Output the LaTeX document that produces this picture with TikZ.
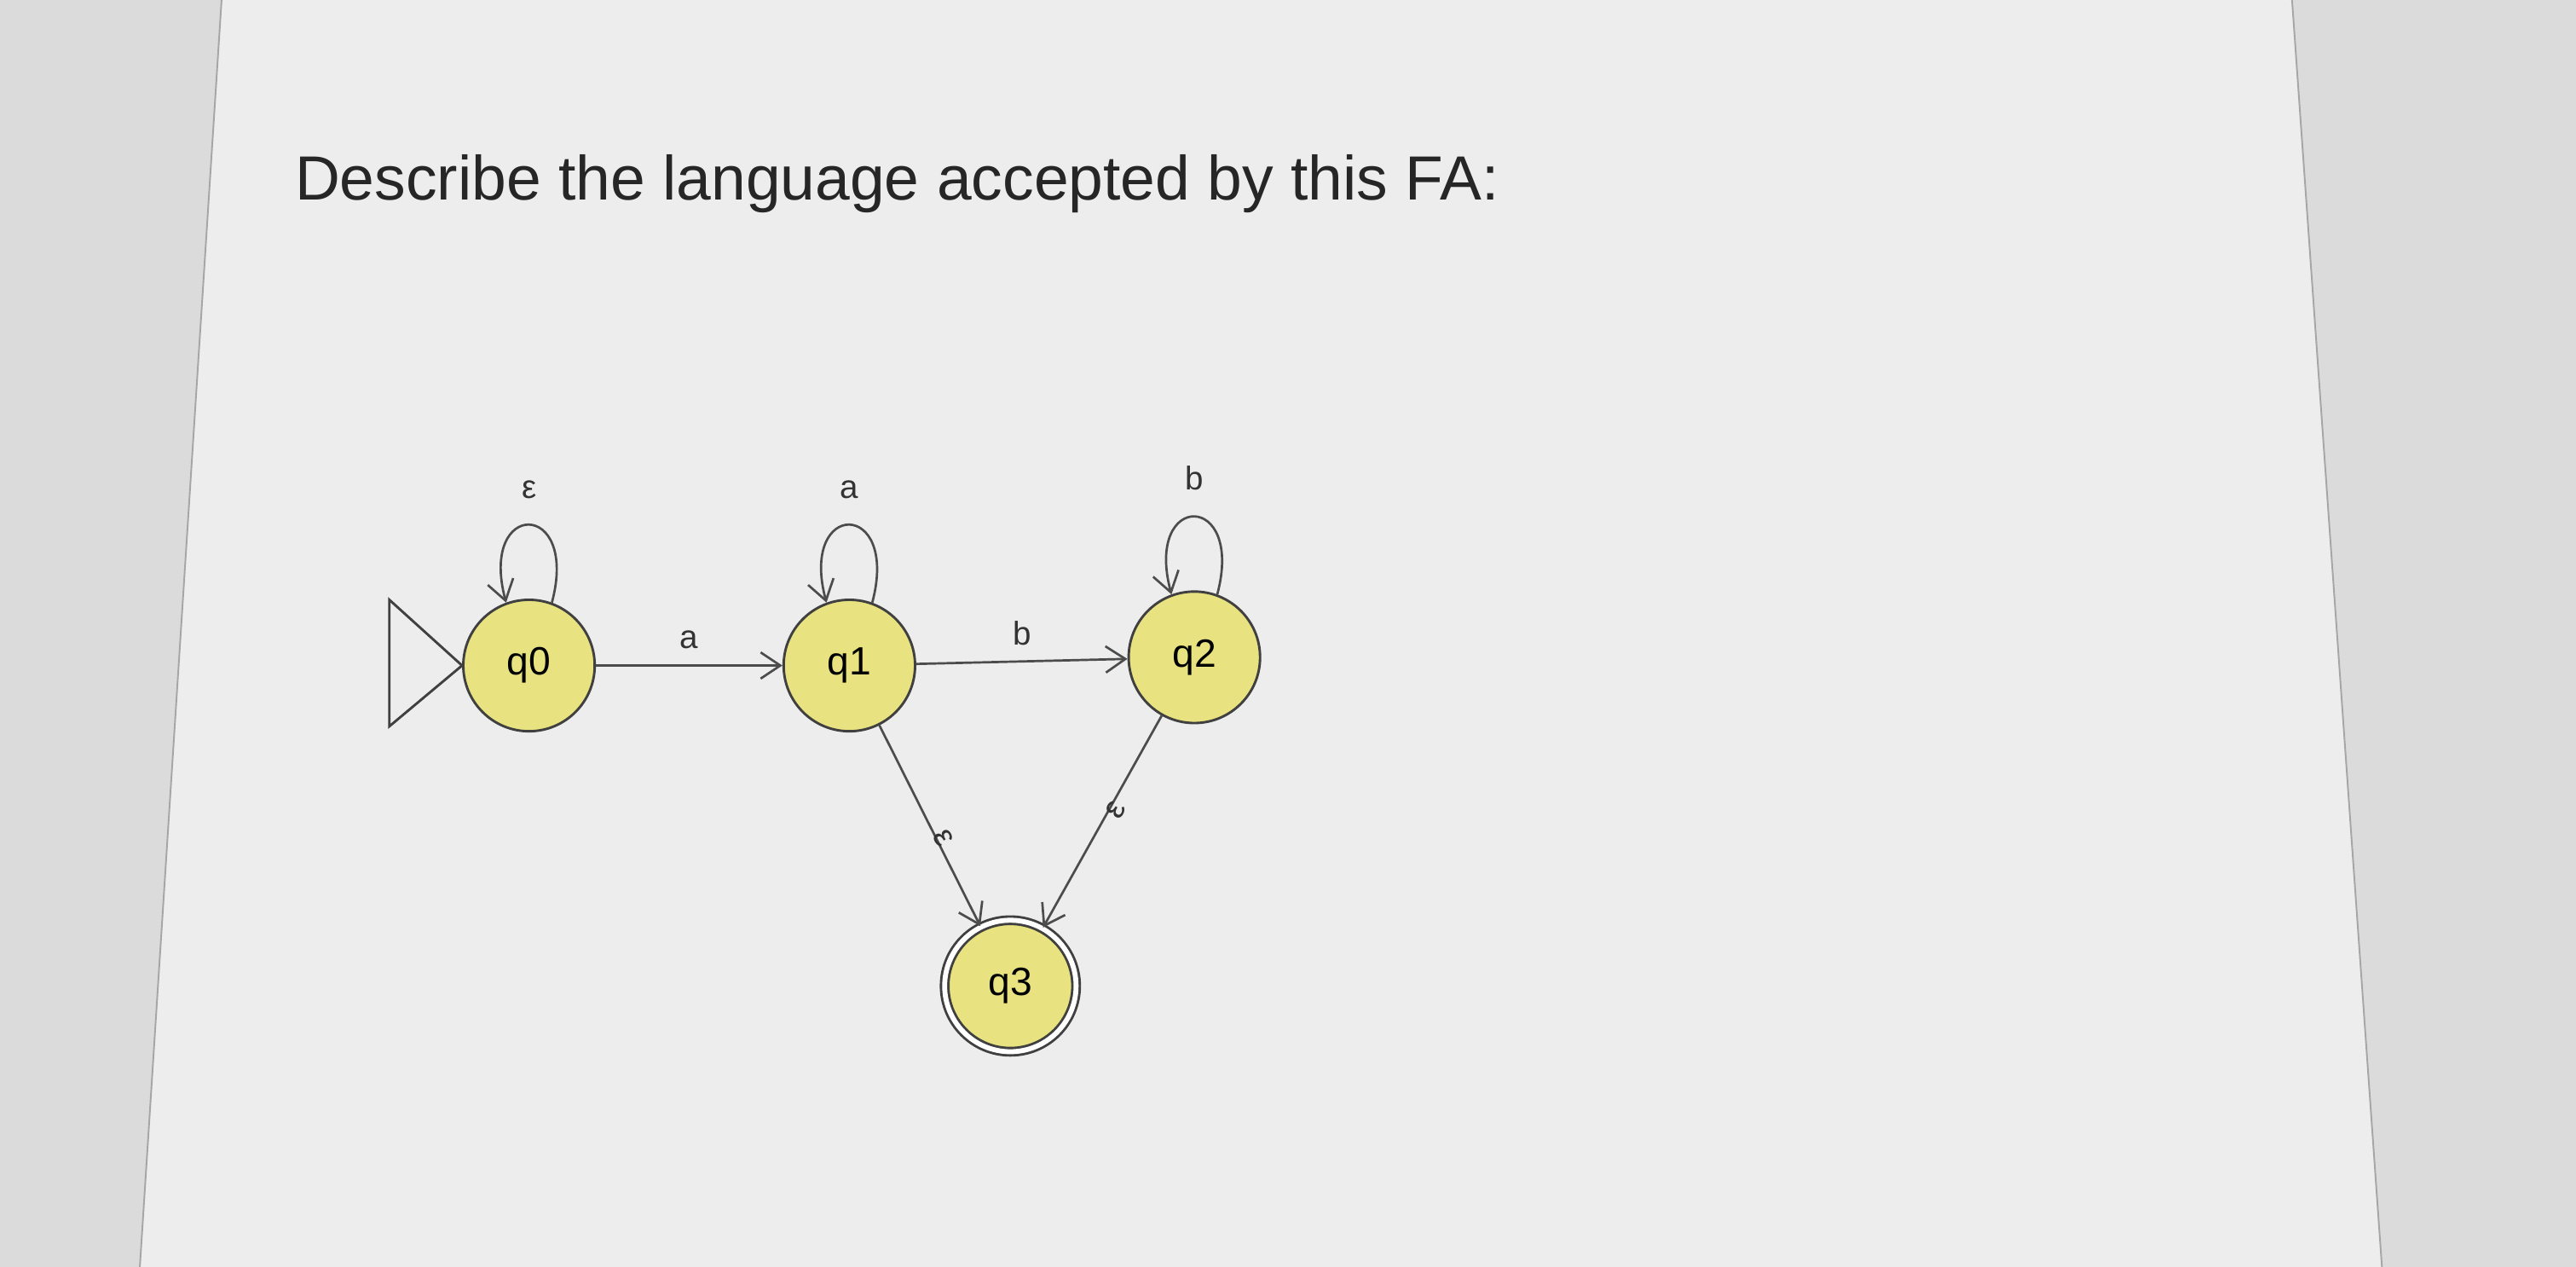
\documentclass[tikz,border=0pt]{standalone}
\usepackage{fontspec}
\setmainfont{Liberation Sans}
\usetikzlibrary{arrows.meta}
\begin{document}
\begin{tikzpicture}[x=1pt,y=-1pt,
  st/.style={circle,draw=black!75,line width=1.5pt,fill=yellow!55!olive!45!white,minimum size=80pt,inner sep=0pt,font=\fontsize{24}{26}\selectfont},
  acc/.style={st,double,double distance=3pt,fill=yellow!55!olive!45!white},
  edge/.style={draw=black!70,line width=1.4pt,-{Straight Barb[length=12pt,width=16pt,line width=1.4pt]}},
  lbl/.style={font=\fontsize{20}{22}\selectfont,text=black!80},
  lp/.style={edge,looseness=6,in=105,out=75}]
\useasboundingbox (0,0) rectangle (1568,771);
\fill[black!14] (0,0) rectangle (1568,771);
\filldraw[fill=black!7,draw=black!35,line width=1pt] (135,-2) -- (1395,-2) -- (1450,773) -- (85,773) -- cycle;
\node[anchor=west,font=\fontsize{38}{42}\selectfont,text=black!85] (title) at (176,112) {Describe the language accepted by this FA:};
\node[st] (q0) at (322,405) {q0};
\node[st] (q1) at (517,405) {q1};
\node[st] (q2) at (727,400) {q2};
\node[acc] (q3) at (615,600) {q3};
\coordinate (s1) at (237,365);
\coordinate (s2) at (237,442);
\draw[black!75,line width=1.5pt] (q0.west) -- (s1) -- (s2) -- cycle;
\draw[edge] (q0) -- node[lbl,above=6pt]{a} (q1);
\draw[edge] (q1) -- node[lbl,above=6pt]{b} (q2);
\draw[edge] (q1) -- node[lbl,right=4pt,rotate=-60]{ε} (q3);
\draw[edge] (q2) -- node[lbl,right=4pt,rotate=60]{ε} (q3);
\draw[lp] (q0.70) to node[lbl,above=12pt]{ε} (q0.110);
\draw[lp] (q1.70) to node[lbl,above=12pt]{a} (q1.110);
\draw[lp] (q2.70) to node[lbl,above=12pt]{b} (q2.110);
\end{tikzpicture}
\end{document}
